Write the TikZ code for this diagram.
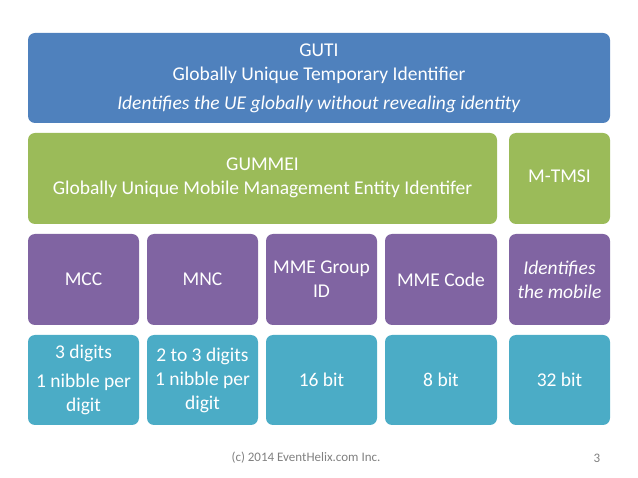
\documentclass[tikz,border=0pt]{standalone}
\usepackage{fontspec}
\setmainfont{Carlito}
\definecolor{cblue}{HTML}{4F81BD}
\definecolor{cgreen}{HTML}{9BBB59}
\definecolor{cpurple}{HTML}{8064A2}
\definecolor{ccyan}{HTML}{4BACC6}
\begin{document}
\begin{tikzpicture}[x=1pt,y=-1pt,
 box/.style={text=white,align=center,font=\fontsize{19.5}{24}\selectfont}]
\useasboundingbox (0,0) rectangle (638,478);
\fill[cblue,rounded corners=7pt] (28,33) rectangle (610,123);
\node[box] (guti) at (319,78) {GUTI\\Globally Unique Temporary Identifier\\[5pt]\textit{Identifies the UE globally without revealing identity}};
\fill[cgreen,rounded corners=7pt] (28,133) rectangle (497,224);
\node[box] (gummei) at (262.5,178) {GUMMEI\\Globally Unique Mobile Management Entity Identifer};
\fill[cgreen,rounded corners=7pt] (509,133) rectangle (610,224);
\node[box] (mtmsi) at (559.5,176) {M-TMSI};
\foreach \a/\b/\n/\t in {28/139/mcc/MCC,147/258/mnc/MNC,266/377/mmeg/{MME Group\\ID},385/497/mmec/MME Code,509/610/mob/{\textit{Identifies}\\\textit{the mobile}}}{
 \fill[cpurple,rounded corners=7pt] (\a,234) rectangle (\b,325);
 \node[box] (\n) at ({(\a+\b)/2},279.5) {\t};
}
\foreach \a/\b/\n/\t in {28/139/c1/{3 digits\\[5pt]1 nibble per\\digit},147/258/c2/{2 to 3 digits\\1 nibble per\\digit},266/377/c3/16 bit,385/497/c4/8 bit,509/610/c5/32 bit}{
 \fill[ccyan,rounded corners=7pt] (\a,335) rectangle (\b,425);
 \node[box] (\n) at ({(\a+\b)/2},380) {\t};
}
\node[font=\fontsize{13}{15}\selectfont,text=gray] (foot) at (306,458) {(c) 2014 EventHelix.com Inc.};
\node[font=\fontsize{13}{15}\selectfont,text=gray] (pg) at (597,458) {3};
\end{tikzpicture}
\end{document}
